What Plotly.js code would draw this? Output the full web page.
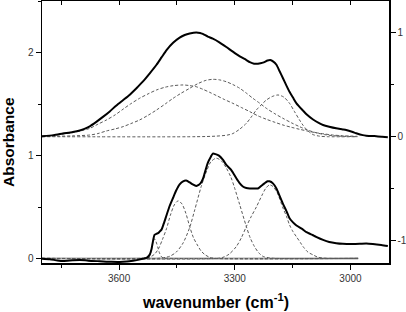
<!DOCTYPE html>
<html><head><meta charset="utf-8">
<script src="https://cdn.plot.ly/plotly-3.0.1.min.js"></script>
<style>html,body{margin:0;padding:0;background:#fff}#c{width:406px;height:312px}</style>
</head><body><div id="c"></div>
<script>
// Upper spectrum (right axis)
const upWn = [3800,3770,3746,3720,3702,3690,3676,3660,3642,3625,3607,3590,3573,3555,3538,3520,3503,3490,3477,3460,3443,3430,3417,3400,3390,3383,3370,3357,3340,3322,3305,3287,3270,3261,3250,3240,3227,3215,3208,3200,3192,3184,3175,3166,3158,3149,3140,3123,3114,3097,3080,3071,3055,3037,3020,3011,2994,2985,2968,2959,2942,2933,2918,2903];
const upAbs = [0.005,0.015,0.03,0.045,0.06,0.075,0.10,0.14,0.19,0.24,0.30,0.35,0.40,0.465,0.53,0.61,0.69,0.76,0.83,0.90,0.95,0.975,0.99,1.0,0.995,0.985,0.96,0.94,0.905,0.86,0.815,0.77,0.735,0.715,0.70,0.70,0.71,0.73,0.735,0.72,0.69,0.63,0.56,0.49,0.43,0.375,0.32,0.25,0.215,0.165,0.128,0.112,0.095,0.08,0.07,0.064,0.045,0.033,0.015,0.01,0.006,0.005,0.0,-0.006];

const up1Wn = [3800,3767,3746,3720,3700,3676,3655,3633,3610,3590,3570,3547,3525,3503,3480,3460,3434,3417,3400,3383,3365,3348,3326,3305,3283,3261,3240,3218,3196,3175,3153,3132,3110,3089,3067,3046,3020,2982];
const up1Abs = [0.005,0.015,0.025,0.04,0.055,0.08,0.12,0.16,0.21,0.263,0.315,0.368,0.41,0.448,0.475,0.489,0.496,0.49,0.479,0.455,0.425,0.395,0.355,0.32,0.28,0.24,0.2,0.167,0.138,0.112,0.09,0.071,0.053,0.038,0.026,0.016,0.009,0.004];

const up2Wn = [3800,3760,3720,3676,3655,3633,3610,3590,3570,3547,3525,3503,3480,3460,3440,3417,3395,3375,3357,3340,3322,3305,3287,3270,3253,3235,3218,3196,3175,3153,3132,3110,3089,3067,3046,3020,2982];
const up2Abs = [0.0,0.004,0.008,0.016,0.03,0.055,0.075,0.096,0.125,0.16,0.205,0.256,0.315,0.368,0.415,0.464,0.51,0.54,0.55,0.545,0.527,0.5,0.464,0.418,0.368,0.32,0.272,0.22,0.176,0.133,0.096,0.062,0.038,0.02,0.01,0.004,0.0];

const up3Wn = [3800,3400,3350,3320,3305,3288,3270,3257,3244,3230,3218,3203,3188,3173,3158,3145,3132,3123,3114,3105,3097,3080,3060,2982];
const up3Abs = [0,0,0.005,0.015,0.03,0.07,0.128,0.19,0.256,0.31,0.352,0.385,0.40,0.38,0.32,0.24,0.16,0.11,0.07,0.04,0.02,0.005,0,0];

// Lower spectrum (left axis)
const loWn = [3800,3780,3760,3745,3720,3702,3680,3650,3620,3599,3580,3564,3548,3535,3529,3521,3516,3512,3508,3503,3499,3495,3490,3484,3477,3469,3460,3452,3443,3434,3426,3417,3409,3400,3396,3389,3383,3378,3370,3362,3357,3350,3341,3331,3322,3309,3296,3287,3279,3270,3261,3250,3240,3230,3223,3215,3210,3201,3192,3184,3175,3166,3158,3149,3140,3123,3114,3097,3089,3071,3055,3037,3020,2994,2976,2959,2942,2920,2903];
const loAbs = [-0.003,-0.008,-0.02,-0.025,-0.018,-0.015,-0.022,-0.028,-0.034,-0.035,-0.03,-0.022,-0.012,0.0,0.005,0.034,0.09,0.17,0.23,0.24,0.245,0.26,0.28,0.34,0.42,0.51,0.59,0.66,0.72,0.75,0.757,0.74,0.72,0.705,0.71,0.73,0.77,0.83,0.93,0.99,1.02,1.015,1.0,0.96,0.91,0.86,0.78,0.73,0.70,0.685,0.68,0.68,0.68,0.71,0.73,0.75,0.75,0.73,0.68,0.61,0.53,0.46,0.39,0.35,0.32,0.28,0.255,0.225,0.21,0.18,0.16,0.148,0.142,0.14,0.142,0.145,0.14,0.13,0.12];

const loAWn = [3800,3530,3524,3521,3516,3512,3508,3504,3499,3495,3490,3485,3470,2980];
const loAAbs = [0,0,0.003,0.02,0.09,0.16,0.19,0.16,0.1,0.05,0.015,0.003,0,0];

const loBWn = [3800,3547,3530,3517,3507,3497,3487,3477,3467,3457,3447,3437,3427,3417,3407,3397,3387,3377,3365,3350,2980];
const loBAbs = [0,0,0.004,0.018,0.045,0.1,0.19,0.29,0.42,0.52,0.56,0.53,0.44,0.31,0.2,0.13,0.07,0.035,0.01,0,0];

const loCWn = [3800,3500,3480,3469,3452,3434,3417,3404,3387,3374,3362,3348,3335,3322,3310,3300,3287,3270,3260,3249,3238,3227,3210,3195,2980];
const loCAbs = [0,0,0.01,0.02,0.06,0.15,0.30,0.47,0.70,0.84,0.94,0.975,0.95,0.88,0.79,0.68,0.52,0.31,0.2,0.115,0.055,0.02,0.005,0,0];

const loDWn = [3800,3345,3331,3315,3296,3283,3270,3257,3244,3230,3220,3210,3201,3190,3175,3166,3158,3149,3140,3130,3123,3110,3097,3085,3071,3055,2980];
const loDAbs = [0,0,0.01,0.04,0.115,0.2,0.31,0.41,0.50,0.61,0.68,0.715,0.70,0.64,0.49,0.41,0.326,0.26,0.21,0.155,0.115,0.06,0.034,0.012,0.003,0,0];

const baseWn = [3800,2980];
const baseAbs = [0,0];

const dashLine = {color:'#5a5a5a', width:1, dash:'3px,2px', shape:'spline', smoothing:0.8};
const solidLine = {color:'#000', width:2, shape:'spline', smoothing:0.6};

const traces = [
  {x:baseWn, y:baseAbs, mode:'lines', line:{color:'#a8a8a8', width:2}, xaxis:'x', yaxis:'y', hoverinfo:'skip'},
  {x:loAWn, y:loAAbs, mode:'lines', line:dashLine, xaxis:'x', yaxis:'y'},
  {x:loBWn, y:loBAbs, mode:'lines', line:dashLine, xaxis:'x', yaxis:'y'},
  {x:loCWn, y:loCAbs, mode:'lines', line:dashLine, xaxis:'x', yaxis:'y'},
  {x:loDWn, y:loDAbs, mode:'lines', line:dashLine, xaxis:'x', yaxis:'y'},
  {x:loWn, y:loAbs, mode:'lines', line:solidLine, xaxis:'x', yaxis:'y'},
  {x:up1Wn, y:up1Abs, mode:'lines', line:dashLine, xaxis:'x2', yaxis:'y2'},
  {x:up2Wn, y:up2Abs, mode:'lines', line:dashLine, xaxis:'x2', yaxis:'y2'},
  {x:up3Wn, y:up3Abs, mode:'lines', line:dashLine, xaxis:'x2', yaxis:'y2'},
  {x:upWn, y:upAbs, mode:'lines', line:solidLine, xaxis:'x2', yaxis:'y2'}
];

const tickFont = {family:'Liberation Sans, Arial, sans-serif', size:10, color:'#333'};
const layout = {
  width:406, height:312,
  margin:{l:42, r:17, t:1, b:49},
  paper_bgcolor:'#fff', plot_bgcolor:'#fff',
  showlegend:false,
  font:{family:'Liberation Sans, Arial, sans-serif'},
  xaxis:{range:[3800,2900], tickmode:'linear', tick0:3000, dtick:300, ticks:'outside', ticklen:5, tickwidth:1, tickcolor:'#000',
         minor:{ticks:'outside', ticklen:3, tickwidth:1, tickcolor:'#000', tickmode:'linear', tick0:3000, dtick:150, showgrid:false},
         showline:true, linecolor:'#000', linewidth:1.5, showgrid:false, zeroline:false, tickfont:tickFont, anchor:'y'},
  xaxis2:{range:[3800,2900], overlaying:'x', side:'top', anchor:'y2', tickmode:'linear', tick0:3000, dtick:150, ticks:'inside', ticklen:4, tickwidth:1, tickcolor:'#000',
          showticklabels:false, showline:true, linecolor:'#000', linewidth:1.5, showgrid:false, zeroline:false},
  yaxis:{range:[-0.045,2.505], tickmode:'linear', tick0:0, dtick:1, ticks:'outside', ticklen:5, tickwidth:1, tickcolor:'#000',
         minor:{ticks:'outside', ticklen:3, tickwidth:1, tickcolor:'#000', tickmode:'linear', tick0:0, dtick:0.5, showgrid:false},
         showline:true, linecolor:'#000', linewidth:1.5, showgrid:false, zeroline:false, tickfont:tickFont, anchor:'x'},
  yaxis2:{range:[-1.211,1.301], overlaying:'y', side:'right', anchor:'x2', tickmode:'array', tickvals:[-1,0,1], ticktext:['-1','0','1'],
          ticks:'outside', ticklen:5, tickwidth:1, tickcolor:'#000',
          minor:{ticks:'outside', ticklen:3, tickwidth:1, tickcolor:'#000', tickmode:'array', tickvals:[-0.5,0.5], showgrid:false},
          showline:true, linecolor:'#000', linewidth:1.5, showgrid:false, zeroline:false, tickfont:tickFont},
  annotations:[
    {text:'<b>wavenumber (cm<sup>-1</sup>)</b>', xref:'paper', yref:'paper', x:0.5, y:-(301-263)/262, xanchor:'center', yanchor:'middle', showarrow:false,
     font:{family:'Liberation Sans, Arial, sans-serif', size:16, color:'#000'}},
    {text:'<b>Absorbance</b>', xref:'paper', yref:'paper', x:(8-42)/347, y:(263-142)/262, xanchor:'center', yanchor:'middle', textangle:-90, showarrow:false,
     font:{family:'Liberation Sans, Arial, sans-serif', size:15.5, color:'#000'}}
  ]
};
Plotly.newPlot('c', traces, layout, {displayModeBar:false, staticPlot:true});
</script></body></html>
